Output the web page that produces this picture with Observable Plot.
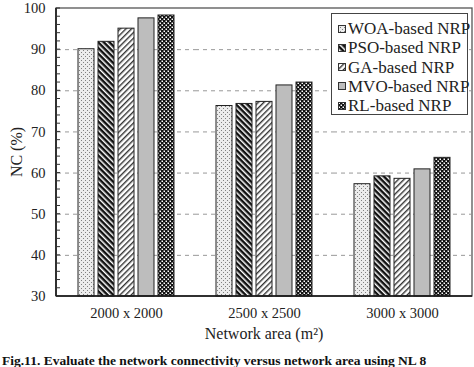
<!DOCTYPE html>
<html><head><meta charset="utf-8">
<script src="https://cdn.jsdelivr.net/npm/d3@7"></script>
<script src="https://cdn.jsdelivr.net/npm/@observablehq/plot@0.6"></script>
<style>
body{margin:0;background:#fff;overflow:hidden;font-family:'Liberation Serif','Times New Roman',serif;}
#wrap{position:relative;width:474px;height:367px;overflow:hidden;}
#legend{position:absolute;left:331px;top:13px;width:137px;height:102px;border:1px solid #444;background:#fff;padding-top:5px;box-sizing:border-box;}
.li{height:19.3px;line-height:19.3px;font-size:17px;color:#222;white-space:nowrap;position:relative;padding-left:16px;}
.li svg{position:absolute;left:6px;top:5.5px;}
#caption{position:absolute;left:2px;top:354px;font-size:13.5px;font-weight:bold;color:#111;white-space:nowrap;line-height:1;}
</style></head><body>
<svg width="0" height="0" style="position:absolute"><defs>
<pattern id="p-woa" width="4" height="4" patternUnits="userSpaceOnUse"><rect width="4" height="4" fill="#ececec"/><rect x="0" y="0" width="1" height="1" fill="#808080"/><rect x="2" y="2" width="1" height="1" fill="#808080"/></pattern>
<pattern id="p-pso" width="4" height="4" patternUnits="userSpaceOnUse" patternTransform="rotate(45)"><rect width="4" height="4" fill="#fff"/><rect width="4" height="2.5" fill="#111"/></pattern>
<pattern id="p-ga" width="4" height="4" patternUnits="userSpaceOnUse" patternTransform="rotate(-45)"><rect width="4" height="4" fill="#fff"/><rect width="4" height="1.4" fill="#333"/></pattern>
<pattern id="p-rl" width="4" height="4" patternUnits="userSpaceOnUse"><rect width="4" height="4" fill="#111"/><rect x="0.5" y="0.5" width="1.5" height="1.5" fill="#fff"/><rect x="2.5" y="2.5" width="1.5" height="1.5" fill="#fff"/></pattern>
</defs></svg>
<div id="wrap"><div id="chart"></div><div id="legend"></div>
<div id="caption">Fig.11. Evaluate the network connectivity versus network area using NL 8</div></div>
<script>
const areas = ["2000 x 2000", "2500 x 2500", "3000 x 3000"];
const methods = ["WOA-based NRP", "PSO-based NRP", "GA-based NRP", "MVO-based NRP", "RL-based NRP"];
const woa = [90.1, 76.3, 57.3];
const pso = [91.9, 76.8, 59.2];
const ga  = [95.1, 77.3, 58.6];
const mvo = [97.6, 81.3, 60.9];
const rl  = [98.3, 82.0, 63.7];
const yTicks = [30, 40, 50, 60, 70, 80, 90, 100];
const gridValues = [40, 50, 60, 70, 80, 90];
const fills = ["url(#p-woa)", "url(#p-pso)", "url(#p-ga)", "#bdbdbd", "url(#p-rl)"];

(function () {
const series = [woa, pso, ga, mvo, rl];
const rows = [];
areas.forEach((a, i) => methods.forEach((m, j) => rows.push({area: a, method: m, value: series[j][i]})));
const yMin = yTicks[0], yMax = yTicks[yTicks.length - 1];

const W = 474, H = 345, mL = 56, mR = 2, mT = 8, mB = 49;
const plot = Plot.plot({
  width: W, height: H,
  marginLeft: mL, marginRight: mR, marginTop: mT, marginBottom: mB,
  style: {fontFamily: "'Liberation Serif','Times New Roman',serif", fontSize: "14.5px", color: "#222", background: "#fff"},
  facet: {data: rows, x: "area"},
  fx: {domain: areas, padding: 0, label: null, axis: "bottom", tickSize: 0, tickPadding: 11},
  x: {domain: methods, paddingInner: 0.19, paddingOuter: 0.9, axis: null},
  y: {domain: [yMin, yMax], ticks: yTicks, tickSize: 0, tickPadding: 12, label: null, tickFormat: d => d},
  color: {type: "ordinal", domain: methods, range: fills},
  marks: [
    Plot.ruleY(gridValues, {stroke: "#999", strokeWidth: 1, strokeDasharray: "4,4"}),
    Plot.barY(rows, {x: "method", y1: () => yMin, y2: "value", fill: "method", stroke: "#222", strokeWidth: 1})
  ]
});
document.getElementById("chart").appendChild(plot);

// frame, minor ticks, axis titles
const ys = plot.scale("y");
const yf = d3.scaleLinear(ys.domain, ys.range);
const svg = d3.select(plot);
const yTop = yf(yMax), yBot = yf(yMin);
svg.append("rect").attr("x", mL).attr("y", yTop).attr("width", W - mL - mR).attr("height", yBot - yTop)
  .attr("fill", "none").attr("stroke", "#555").attr("stroke-width", 1.3);
svg.append("line").attr("x1", mL).attr("x2", mL).attr("y1", yTop).attr("y2", yBot).attr("stroke", "#111").attr("stroke-width", 1.5);
svg.append("line").attr("x1", mL).attr("x2", W - mR).attr("y1", yBot).attr("y2", yBot).attr("stroke", "#111").attr("stroke-width", 1.5);
d3.range(yMin, yMax + 1, 2).forEach(v => {
  svg.append("line").attr("x1", mL).attr("x2", mL + 4).attr("y1", yf(v)).attr("y2", yf(v)).attr("stroke", "#333").attr("stroke-width", 1);
});
svg.append("text").attr("transform", `translate(16,${(yTop + yBot) / 2}) rotate(-90)`).attr("text-anchor", "middle")
  .attr("dy", "0.35em").style("font-size", "16px").attr("fill", "#222").text("NC (%)");
svg.append("text").attr("x", (mL + W - mR) / 2).attr("y", 333).attr("text-anchor", "middle").attr("dy", "0.35em")
  .style("font-size", "16px").attr("fill", "#222").text("Network area (m²)");

// legend
const lg = document.getElementById("legend");
methods.forEach((m, j) => {
  const d = document.createElement("div");
  d.className = "li";
  d.innerHTML = `<svg width="8" height="8"><rect x="0.5" y="0.5" width="7" height="7" fill="${fills[j]}" stroke="#333" stroke-width="1"/></svg>${m}`;
  lg.appendChild(d);
});
})();
</script>
</body></html>
